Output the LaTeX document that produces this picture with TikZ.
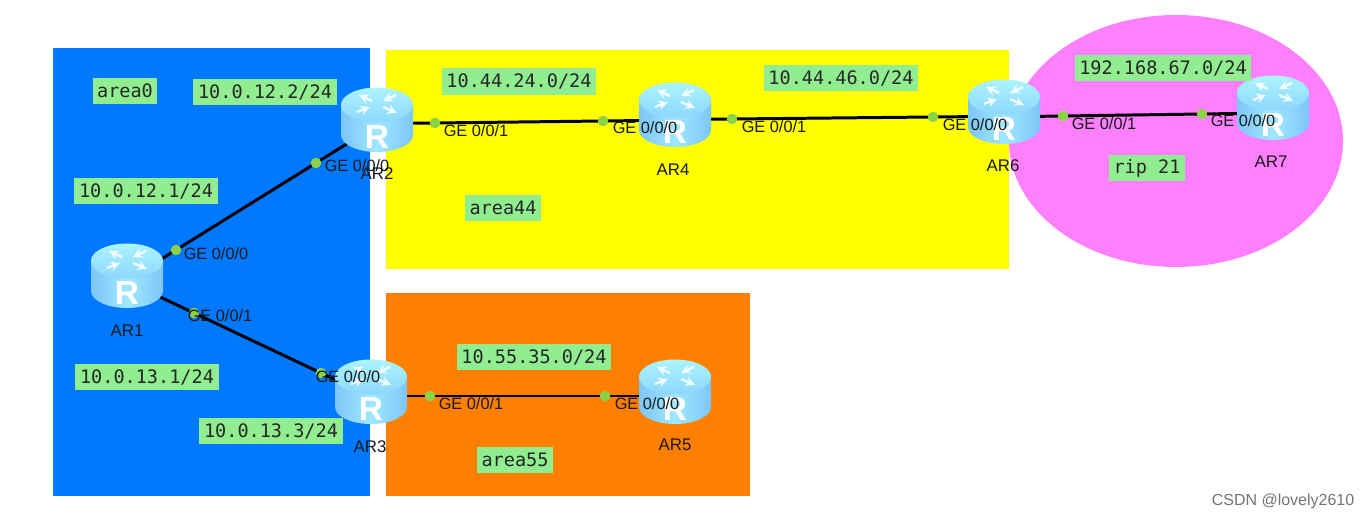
\documentclass[tikz,border=0pt]{standalone}
\usepackage{fontspec}
\setmainfont{Liberation Sans}
\newfontfamily\labelfont{DejaVu Sans Mono}
\usepackage{xcolor}
\usetikzlibrary{arrows,shapes,positioning}
\definecolor{areablue}{RGB}{0,120,255}
\definecolor{areayellow}{RGB}{255,255,0}
\definecolor{areaorange}{RGB}{255,128,0}
\definecolor{areapink}{RGB}{255,128,255}
\definecolor{notegreen}{RGB}{144,238,144}
\definecolor{portgreen}{RGB}{140,210,70}
\definecolor{routerside}{RGB}{125,198,248}
\definecolor{routermid}{RGB}{160,232,255}
\definecolor{routertop}{RGB}{172,244,255}
\definecolor{routerlow}{RGB}{140,215,255}
\pgfdeclarelayer{backdrop}
\pgfsetlayers{backdrop,main}
\tikzset{
    routericon/.pic={
        \path[left color=routerside, right color=routerside, middle color=routermid]
            (-36,-15) -- (-36,15) arc[start angle=180, end angle=0, x radius=36, y radius=17]
            -- (36,-15) arc[start angle=0, end angle=-180, x radius=36, y radius=17] -- cycle;
        \path[top color=routertop, bottom color=routerlow] (0,-15) ellipse [x radius=36, y radius=17.5];
        \draw[white, opacity=0.85, line width=1.4pt, ->, >=stealth] (-5,-19) -- (-18,-25);
        \draw[white, opacity=0.85, line width=1.4pt, ->, >=stealth] (19,-25) -- (6,-19);
        \draw[white, opacity=0.85, line width=1.4pt, ->, >=stealth] (-20,-8) -- (-7,-13);
        \draw[white, opacity=0.85, line width=1.4pt, ->, >=stealth] (6,-13) -- (20,-7);
    }
}
\newcommand{\router}[3]{%
    \pic at (#2,#3) {routericon};
    \node (#1) [routerbox] at (#2,#3) {};
    \node (#1r) [routerletter] at (#2,#3+17) {R};
}
\begin{document}
\begin{tikzpicture}[
    x=0.02cm, y=-0.02cm,
    routerbox/.style={rectangle, minimum width=40pt, minimum height=36pt, inner sep=0pt},
    routerletter/.style={font=\fontsize{19}{19}\selectfont\bfseries, text=white, inner sep=0pt},
    note/.style={rectangle, fill=notegreen, text=black!85, font=\labelfont\fontsize{10.55}{12}\selectfont, inner xsep=2.6pt, inner ysep=0pt, minimum height=14.9pt},
    port/.style={circle, fill=portgreen, minimum size=6pt, inner sep=0pt},
    portname/.style={font=\fontsize{9.3}{11}\selectfont, inner sep=0pt, text=black!90},
    devname/.style={font=\fontsize{9.6}{11}\selectfont, inner sep=0pt, text=black!90},
    link/.style={line width=1.7pt, black, shorten <=-25pt, shorten >=-25pt}
]
\useasboundingbox (0,0) rectangle (1368,519);

% Areas
\begin{pgfonlayer}{backdrop}
\node (rip) [ellipse, fill=areapink, minimum width=334*0.02cm, minimum height=252*0.02cm, inner sep=0pt] at (1176,141) {};
\node (zero) [rectangle, fill=areablue, minimum width=317*0.02cm, minimum height=448*0.02cm, inner sep=0pt] at (211.5,272) {};
\node (fortyfour) [rectangle, fill=areayellow, minimum width=623*0.02cm, minimum height=219*0.02cm, inner sep=0pt] at (697.5,159.5) {};
\node (fiftyfive) [rectangle, fill=areaorange, minimum width=364*0.02cm, minimum height=203*0.02cm, inner sep=0pt] at (568,394.5) {};
\end{pgfonlayer}

% Routers
\router{ar1}{127}{276}
\router{ar2}{377}{120}
\router{ar3}{371}{392}
\router{ar4}{675}{115}
\router{ar5}{675}{392}
\router{ar6}{1004}{112}
\router{ar7}{1273}{108}

% Ports
\node (p1a) [port] at (176,250) {};
\node (p2a) [port] at (316,163) {};
\node (p1b) [port] at (194,313) {};
\node (p3a) [port] at (321,373) {};
\node (p2b) [port] at (435,123) {};
\node (p4a) [port] at (603,121) {};
\node (p4b) [port] at (732,119) {};
\node (p6a) [port] at (933,117) {};
\node (p6b) [port] at (1063,116) {};
\node (p7a) [port] at (1202,114) {};
\node (p3b) [port] at (430,396) {};
\node (p5a) [port] at (605,396) {};

% Connections
\begin{pgfonlayer}{backdrop}
\draw[link] (p1a.center) -- (p2a.center);
\draw[link] (p1b.center) -- (p3a.center);
\draw[link] (p2b.center) -- (p4a.center);
\draw[link] (p4b.center) -- (p6a.center);
\draw[link] (p6b.center) -- (p7a.center);
\draw[link] (p3b.center) -- (p5a.center);
\end{pgfonlayer}

% Router names
\node (ar1name) [devname] at (127,331) {AR1};
\node (ar2name) [devname] at (377,174) {AR2};
\node (ar3name) [devname] at (370,447) {AR3};
\node (ar4name) [devname] at (673,170) {AR4};
\node (ar5name) [devname] at (675,445) {AR5};
\node (ar6name) [devname] at (1003,166) {AR6};
\node (ar7name) [devname] at (1271,162) {AR7};

% Port names
\node (n1a) [portname] at (216,254) {GE 0/0/0};
\node (n2a) [portname] at (357,166) {GE 0/0/0};
\node (n1b) [portname] at (220,316) {GE 0/0/1};
\node (n3a) [portname] at (348,377) {GE 0/0/0};
\node (n2b) [portname] at (476,131) {GE 0/0/1};
\node (n4a) [portname] at (645,128) {GE 0/0/0};
\node (n4b) [portname] at (774,127) {GE 0/0/1};
\node (n6a) [portname] at (975,125) {GE 0/0/0};
\node (n6b) [portname] at (1104,124) {GE 0/0/1};
\node (n7a) [portname] at (1243,121) {GE 0/0/0};
\node (n3b) [portname] at (471,404) {GE 0/0/1};
\node (n5a) [portname] at (647,404) {GE 0/0/0};

% Notes
\node (area0) [note] at (125,91) {area0};
\node (net122) [note] at (265,92) {10.0.12.2/24};
\node (net121) [note] at (146,191) {10.0.12.1/24};
\node (net131) [note] at (147,377) {10.0.13.1/24};
\node (net133) [note] at (271,431) {10.0.13.3/24};
\node (net44a) [note] at (519,81.5) {10.44.24.0/24};
\node (net44b) [note] at (841,78) {10.44.46.0/24};
\node (net67) [note] at (1163,68) {192.168.67.0/24};
\node (rip21) [note] at (1147,168) {rip 21};
\node (area44) [note] at (503,208) {area44};
\node (net55) [note] at (534,357) {10.55.35.0/24};
\node (area55) [note] at (515,460) {area55};

\node (mark) [font=\fontsize{9.1}{11}\selectfont, text=black!55, inner sep=0pt] at (1283,501) {CSDN @lovely2610};
\end{tikzpicture}
\end{document}
